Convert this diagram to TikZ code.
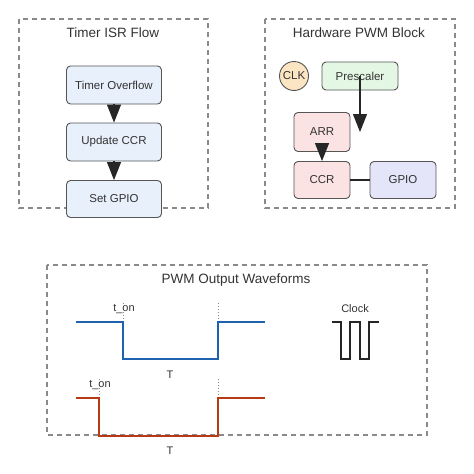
\documentclass[tikz,border=0pt]{standalone}
\usepackage{fontspec}
\setmainfont{Liberation Sans}
\usetikzlibrary{arrows.meta}

\definecolor{edgegray}{HTML}{555555}
\definecolor{dashgray}{HTML}{8A8A8A}
\definecolor{isrblue}{HTML}{E7F0FB}
\definecolor{pregreen}{HTML}{E4F7E4}
\definecolor{regpink}{HTML}{FCE3E3}
\definecolor{gpiolav}{HTML}{E5E5FA}
\definecolor{clkorange}{HTML}{FCE5C2}
\definecolor{waveblue}{HTML}{1F62B0}
\definecolor{wavered}{HTML}{B83A14}

\tikzset{
  group/.style={draw=dashgray,line width=1.2pt,dash pattern=on 5pt off 4pt},
  title/.style={text=black!80,font=\fontsize{13.5}{15}\selectfont},
  blk/.style={draw=edgegray,line width=.9pt,rounded corners=4pt,text=black!80,font=\fontsize{11.5}{13}\selectfont},
  lbl/.style={text=black!80,font=\fontsize{11}{13}\selectfont,inner sep=1pt},
  flow/.style={draw=black!85,line width=1.3pt,-{Triangle[width=14pt,length=18pt]}},
  marker/.style={draw=dashgray,line width=1pt,dotted}
}

\begin{document}
\begin{tikzpicture}
[x=1pt,y=-1pt]
\useasboundingbox (0,0) rectangle (474,474);

% group frames
\draw[group] (19,19) rectangle (208,208);
\draw[group] (265,19) rectangle (455,208);
\draw[group] (47,265) rectangle (427,435);
\node[title] (t1) at (113,33) {Timer ISR Flow};
\node[title] (t2) at (359,33) {Hardware PWM Block};
\node[title] (t3) at (236,280) {PWM Output Waveforms};

% timer ISR flow
\node[blk,fill=isrblue,minimum width=95,minimum height=38] (ovf) at (114,85) {Timer Overflow};
\node[blk,fill=isrblue,minimum width=95,minimum height=38] (upd) at (114,142) {Update CCR};
\node[blk,fill=isrblue,minimum width=95,minimum height=37] (set) at (114,199) {Set GPIO};

% hardware block
\node[circle,draw=edgegray,line width=.9pt,fill=clkorange,minimum size=29,inner sep=0pt,text=black!80,font=\fontsize{11.5}{13}\selectfont] (clk) at (294,76) {CLK};
\node[blk,fill=pregreen,minimum width=76,minimum height=28] (pre) at (360,76) {Prescaler};
\node[blk,fill=regpink,minimum width=56,minimum height=39] (arr) at (322,132) {ARR};
\node[blk,fill=regpink,minimum width=56,minimum height=37] (ccr) at (322,180) {CCR};
\node[blk,fill=gpiolav,minimum width=66,minimum height=37] (gpio) at (403,180) {GPIO};
\coordinate (pend) at (360,132);

\foreach \from/\to in {ovf/upd,upd/set,arr/ccr}
\draw[flow] (\from.south) -- (\to.north);
\draw[flow] (pre.center) -- (pend);
\draw[draw=black!85,line width=1.3pt] (ccr) -- (gpio);

% waveforms
\draw[marker] (123,303) -- (123,322);
\draw[marker] (218,303) -- (218,322);
\draw[marker] (99,379) -- (99,398);
\draw[marker] (218,379) -- (218,398);
\draw[waveblue,line width=1.5pt] (76,322) -- (123,322) -- (123,359) -- (218,359) -- (218,322) -- (265,322);
\draw[wavered,line width=1.5pt] (76,398) -- (99,398) -- (99,436) -- (218,436) -- (218,398) -- (265,398);
\draw[black!85,line width=1.5pt] (332,322) -- (341,322) -- (341,359) -- (350,359) -- (350,322) -- (360,322) -- (360,359) -- (369,359) -- (369,322) -- (379,322);

\node[lbl] (ton1) at (124,309) {t\_on};
\node[lbl] (per1) at (170,375) {T};
\node[lbl] (ton2) at (100,385) {t\_on};
\node[lbl] (per2) at (170,451) {T};
\node[lbl] (clklbl) at (355,309) {Clock};
\end{tikzpicture}
\end{document}
